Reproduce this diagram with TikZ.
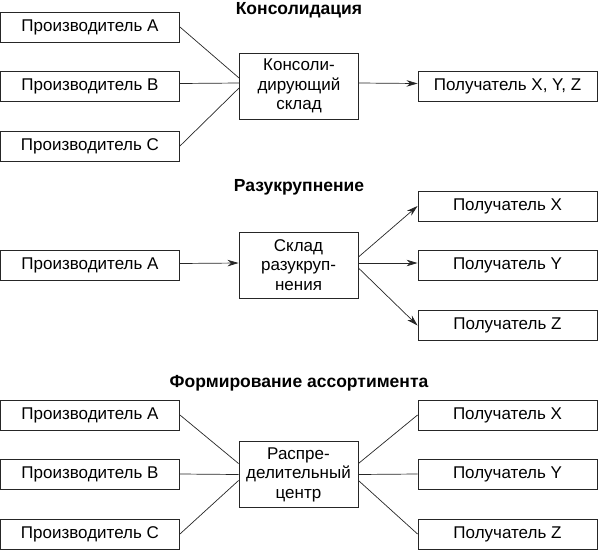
\documentclass[tikz,border=0pt]{standalone}
\usepackage{fontspec}
\setmainfont{Liberation Sans}
\usetikzlibrary{calc,arrows.meta}

\begin{document}
\begin{tikzpicture}[x=1pt,y=-1pt,
    box/.style={draw=black!85,line width=0.9pt,minimum width=179pt,minimum height=30pt,inner sep=0pt,font=\fontsize{17}{20}\selectfont},
    hub/.style={draw=black!85,line width=0.9pt,minimum width=119pt,minimum height=66pt,inner sep=0pt,align=center,font=\fontsize{17}{19.5}\selectfont},
    title/.style={font=\fontsize{17.5}{20}\selectfont\bfseries},
    link/.style={draw=black!85,line width=0.7pt},
    arr/.style={link,-{Stealth[length=11pt,width=6.5pt,inset=3.5pt]}}]
            \useasboundingbox (0,0) rectangle (598,550);

            % Консолидация
            \node[title,anchor=base] (t1) at (299,14){Консолидация};
            \node[box] (p1a) at (90,27){Производитель А};
            \node[box] (p1b) at (90,86.5){Производитель В};
            \node[box] (p1c) at (90,146){Производитель С};
            \node[hub] (kons) at (299,86){Консоли-\\дирующий\\склад};
            \node[box] (r1) at (507.5,86.5){Получатель X, Y, Z};

            \draw[link] (p1a.east) -- ([yshift=8pt]kons.west);
            \draw[link] ([yshift=3pt]p1b.east) -- ([yshift=3pt]kons.west);
            \draw[link] (p1c.east) -- ([yshift=-2pt]kons.west);
            \draw[arr] ([yshift=3pt]kons.east) -- ([yshift=3pt]r1.west);

            % Разукрупнение
            \node[title] (t2) at (299,187){Разукрупнение};
            \node[box] (p2a) at (90,265.5){Производитель А};
            \node[hub] (razuk) at (298.5,265){Склад\\разукруп-\\нения};
            \node[box] (r2x) at (507.5,206){Получатель X};
            \node[box] (r2y) at (507.5,265){Получатель Y};
            \node[box] (r2z) at (507.5,325.5){Получатель Z};

            \draw[arr] ([yshift=2pt]p2a.east) -- ([yshift=2pt]razuk.west);
            \draw[arr] ([yshift=8pt]razuk.east) -- (r2x.west);
            \draw[arr] ([yshift=2pt]razuk.east) -- ([yshift=2pt]r2y.west);
            \draw[arr] ([yshift=-3pt]razuk.east) -- (r2z.west);

            % Формирование ассортимента
            \node[title] (t3) at (299,383){Формирование ассортимента};
            \node[box] (p3a) at (90,415){Производитель А};
            \node[box] (p3b) at (90,474){Производитель В};
            \node[box] (p3c) at (90,534){Производитель С};
            \node[hub] (raspr) at (298.5,474.5){Распре-\\делительный\\центр};
            \node[box] (r3x) at (507.5,415){Получатель X};
            \node[box] (r3y) at (507.5,474){Получатель Y};
            \node[box] (r3z) at (507.5,534){Получатель Z};

            \draw[link] (p3a.east) -- ([yshift=11pt]raspr.west);
            \draw[link] (p3b.east) -- (raspr.west);
            \draw[link] (p3c.east) -- ([yshift=-6pt]raspr.west);
            \draw[link] ([yshift=11pt]raspr.east) -- (r3x.west);
            \draw[link] (raspr.east) -- (r3y.west);
            \draw[link] ([yshift=-6pt]raspr.east) -- (r3z.west);
\end{tikzpicture}
\end{document}
